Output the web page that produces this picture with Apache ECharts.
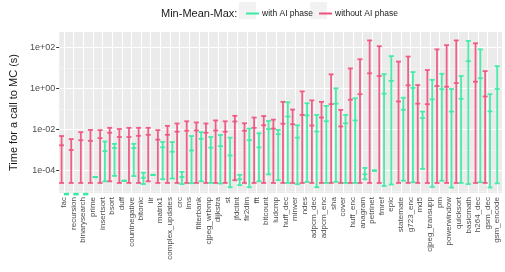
<!DOCTYPE html>
<html>
<head>
<meta charset="utf-8">
<script src="https://cdn.jsdelivr.net/npm/echarts@6/dist/echarts.min.js"></script>
<style>
html,body{margin:0;padding:0;background:#fff}
#chart{width:505px;height:272px}
</style>
</head>
<body>
<div id="chart"></div>
<script>
var benchmarks = ['fac','recursion','binarysearch','prime','insertsort','bsort','duff','countnegative','bitonic','iir',
  'matrix1','complex_updates','crc','lms','filterbank','cjpeg_wrbmp','dijkstra','st','jfdctint','fir2dim',
  'fft','bitcount','ludcmp','huff_dec','minver','ndes','adpcm_dec','adpcm_enc','sha','cover',
  'huff_enc','anagram','petrinet','fmref','epic','statemate','g723_enc','md5','cjpeg_transupp','pm',
  'powerwindow','quicksort','basicmath','h264_dec','gsm_dec','gsm_encode'];

// with AI phase (seconds)
var withMin  = [7e-6,7e-6,7e-6,4.8e-5,3.0e-5,5.5e-5,3.2e-5,5.4e-5,2.2e-5,6.2e-5,
  3.8e-5,4.1e-5,2.2e-5,2.45e-5,3.0e-5,2.5e-5,2.35e-5,1.55e-5,1.95e-5,1.55e-5,
  3.0e-5,6.5e-5,3.4e-5,2.5e-5,2.2e-5,2.8e-5,1.55e-5,2.5e-5,2.8e-5,2.5e-5,
  2.5e-5,3.8e-5,1.0e-4,1.8e-5,2.1e-5,3.2e-5,2.7e-5,1.2e-4,1.6e-5,3.2e-5,
  1.5e-5,2.5e-5,2.2e-5,2.7e-5,1.5e-5,2.4e-5];
var withMean = [7e-6,7e-6,7e-6,4.8e-5,8.9e-4,1.25e-3,3.2e-5,1.25e-3,4.5e-5,6.2e-5,
  1.35e-3,8.3e-4,4.9e-5,9.5e-4,3.5e-3,1.3e-3,1.55e-3,5.4e-4,3.8e-5,3.0e-3,
  1.35e-3,1.05e-2,5.9e-3,4.3e-2,4.0e-3,4.8e-2,7.9e-3,2.5e-2,0.18,2.0e-2,
  2.75e-2,6.6e-5,1.0e-4,0.55,2.3,9.1e-2,1.05,3.6e-2,0.29,0.91,
  7.4e-2,0.31,21,3.1,7.6e-2,0.93];
var withMax  = [7.5e-6,7.5e-6,7.5e-6,4.8e-5,2.6e-3,2.0e-3,3.2e-5,2.0e-3,7.9e-5,6.2e-5,
  2.5e-3,2.45e-3,8.7e-5,4.8e-3,7.4e-3,4.3e-3,5.4e-3,4.0e-3,6.2e-5,1.1e-2,
  6.5e-3,2.6e-2,9.5e-3,0.21,1.6e-2,0.19,5.1e-2,0.14,1.0,5.1e-2,
  0.33,1.35e-4,1.0e-4,4.9,37,0.35,6.2,7.4e-2,2.6,5.1,
  0.93,4.0,204,79,0.52,12];

// without AI phase (seconds), null where there is no run
var withoutMin  = [2.5e-5,2.5e-5,2.5e-5,2.5e-5,2.5e-5,3.0e-5,2.5e-5,2.5e-5,2.5e-5,3.0e-5,
  2.5e-5,2.5e-5,2.5e-5,2.5e-5,2.5e-5,2.5e-5,2.5e-5,2.5e-5,3.4e-5,2.5e-5,
  2.5e-5,2.5e-5,2.5e-5,2.5e-5,2.5e-5,2.5e-5,2.5e-5,2.5e-5,2.5e-5,2.5e-5,
  2.5e-5,2.5e-5,2.5e-5,2.5e-5,null,2.5e-5,2.5e-5,2.5e-5,2.5e-5,2.5e-5,
  2.5e-5,2.5e-5,null,2.5e-5,2.5e-5,null];
var withoutMean = [1.7e-3,1.0e-3,3.0e-3,2.8e-3,3.8e-3,6.9e-3,4.3e-3,4.3e-3,4.9e-3,5.5e-3,
  3.2e-3,5.5e-3,7.8e-3,8.7e-3,8.9e-3,6.9e-3,8.9e-3,7.8e-3,2.45e-2,8.7e-3,
  1.2e-2,1.6e-2,1.1e-2,1.9e-2,1.8e-2,5.1e-2,1.55e-2,3.8e-2,0.17,1.4e-2,
  0.28,0.52,5.4,4.0,null,0.23,1.4,0.18,0.17,1.3,
  1.2,1.8,null,2.1,0.40,null];
var withoutMax  = [4.8e-3,3.4e-3,7.4e-3,9.5e-3,9.3e-3,1.2e-2,1.05e-2,1.2e-2,1.2e-2,1.2e-2,
  9.3e-3,1.5e-2,1.95e-2,2.5e-2,2.2e-2,1.95e-2,2.75e-2,2.5e-2,4.6e-2,2.0e-2,
  3.8e-2,4.5e-2,3.0e-2,0.22,9.3e-2,0.71,0.26,0.22,4.8,8.9e-2,
  9.3,26,214,112,null,20,35,1.45,7.8,79,
  126,214,null,155,6.9,null];

var yTicks = [1e-4, 1e-2, 1, 1e2];
var yMinorTicks = [1e-5, 1e-3, 1e-1, 1e1];

var GREEN = '#3BEBA3';
var PINK = '#EF527D';

function rows(lo, mid, hi) {
  var out = [];
  benchmarks.forEach(function (b, i) {
    if (hi[i] != null) out.push([i, lo[i], mid[i], hi[i]]);
  });
  return out;
}

function sci(v) {
  var e = Math.round(Math.log10(v));
  var a = Math.abs(e);
  return '1e' + (e < 0 ? '-' : '+') + (a < 10 ? '0' : '') + a;
}

// min-mean-max error bar, dodged left/right when both series exist
function errorBars(other, side) {
  return function (params, api) {
    var i = api.value(0);
    var step = api.coord([1, 1])[0] - api.coord([0, 1])[0];
    var dx = other[i] == null ? 0 : side * step * 0.25;
    var cap = step * 0.26;
    var top = api.coord([i, api.value(3)]);
    var mid = api.coord([i, api.value(2)]);
    var bot = api.coord([i, api.value(1)]);
    var x = top[0] + dx;
    var style = { stroke: api.visual('color'), lineWidth: 1.8, opacity: 0.92 };
    function hline(y) {
      return { type: 'line', shape: { x1: x - cap, y1: y, x2: x + cap, y2: y }, style: style };
    }
    return {
      type: 'group',
      children: [
        { type: 'line', shape: { x1: x, y1: top[1], x2: x, y2: bot[1] }, style: style },
        hline(top[1]), hline(mid[1]), hline(bot[1])
      ]
    };
  };
}

var chart = echarts.init(document.getElementById('chart'));
var option = {
  animation: false,
  textStyle: { fontFamily: 'Liberation Sans' },
  title: {
    text: 'Min-Mean-Max:',
    left: 156, top: 3,
    textStyle: { fontSize: 11, fontWeight: 'normal', color: '#1a1a1a', fontFamily: 'Liberation Sans' }
  },
  graphic: [
    { type: 'rect', shape: { x: 239, y: 2, width: 17, height: 17 }, style: { fill: '#F2F2F2' }, z: -1 },
    { type: 'rect', shape: { x: 310, y: 2, width: 17, height: 17 }, style: { fill: '#F2F2F2' }, z: -1 }
  ],
  legend: {
    left: 241, top: 4,
    selectedMode: false,
    icon: 'rect',
    itemWidth: 13, itemHeight: 2,
    itemGap: 6,
    textStyle: { fontSize: 8.5, color: '#1a1a1a', fontFamily: 'Liberation Sans', padding: [0, 0, 0, -2] },
    data: ['with AI phase', 'without AI phase']
  },
  grid: {
    left: 44, right: 3, top: 32, bottom: 79,
    show: true, backgroundColor: '#EBEBEB', borderWidth: 0
  },
  xAxis: {
    type: 'category',
    data: benchmarks,
    axisLine: { show: false },
    axisTick: { alignWithLabel: true, length: 3, lineStyle: { color: '#333333', width: 1 } },
    splitLine: { show: true, alignWithLabel: true, lineStyle: { color: '#ffffff', width: 1 } },
    axisLabel: { rotate: 90, interval: 0, fontSize: 8, color: '#4D4D4D', margin: 4, fontFamily: 'Liberation Sans' }
  },
  yAxis: [{
    type: 'log',
    logBase: 10,
    min: Math.pow(10, -5.09),
    max: Math.pow(10, 2.74),
    name: 'Time for a call to MC (s)',
    nameLocation: 'middle',
    nameGap: 30,
    nameTextStyle: { fontSize: 11, color: '#1a1a1a', fontFamily: 'Liberation Sans' },
    axisLine: { show: false },
    axisTick: { show: true, length: 3, customValues: yTicks, lineStyle: { color: '#333333' } },
    axisLabel: { customValues: yTicks, formatter: sci, fontSize: 9, color: '#4D4D4D', margin: 4, fontFamily: 'Liberation Sans' },
    splitLine: { show: true, lineStyle: { color: '#ffffff', width: 1.1 } }
  }, {
    type: 'log',
    logBase: 10,
    min: Math.pow(10, -5.09),
    max: Math.pow(10, 2.74),
    position: 'left',
    axisLine: { show: false },
    axisTick: { show: false, customValues: yMinorTicks },
    axisLabel: { show: false, customValues: yMinorTicks },
    splitLine: { show: true, lineStyle: { color: '#F7F7F7', width: 0.6 } }
  }],
  series: [{
    name: 'without AI phase',
    type: 'custom',
    color: PINK,
    itemStyle: { color: PINK },
    renderItem: errorBars(withMax, -1),
    encode: { x: 0, y: [1, 2, 3] },
    data: rows(withoutMin, withoutMean, withoutMax)
  }, {
    name: 'with AI phase',
    type: 'custom',
    color: GREEN,
    itemStyle: { color: GREEN },
    renderItem: errorBars(withoutMax, 1),
    encode: { x: 0, y: [1, 2, 3] },
    data: rows(withMin, withMean, withMax)
  }]
};
chart.setOption(option);
</script>
</body>
</html>
